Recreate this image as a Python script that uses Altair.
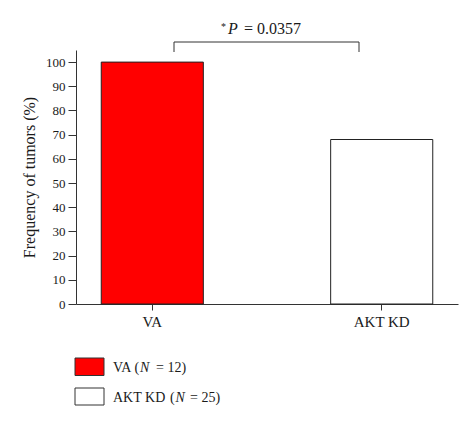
import altair as alt
import pandas as pd

# ---- data ----
categories = ["VA", "AKT KD"]
frequencies = [100, 68]
bar_colors = ["#ff0000", "#ffffff"]
group_n = [12, 25]
y_ticks = [0, 10, 20, 30, 40, 50, 60, 70, 80, 90, 100]
p_value = "0.0357"
y_title = "Frequency of tumors (%)"

FONT = "Liberation Serif"
INK = "#1a1a1a"
AX = "#333333"

bars_df = pd.DataFrame({"group": categories, "freq": frequencies})

x_enc = alt.X(
    "group:N",
    sort=categories,
    scale=alt.Scale(paddingInner=0.555, paddingOuter=0.11),
    axis=alt.Axis(
        title=None, labelAngle=0, tickSize=6, tickColor=AX, domainColor=AX,
        labelFont=FONT, labelFontSize=15, labelColor=INK, labelPadding=4,
    ),
)
y_enc = alt.Y(
    "freq:Q",
    scale=alt.Scale(domain=[0, 105], nice=False),
    axis=alt.Axis(
        values=y_ticks, grid=False, tickSize=8, tickColor=AX, domainColor=AX,
        labelFont=FONT, labelFontSize=13, labelColor=INK, labelPadding=3,
        title=y_title, titleFont=FONT, titleFontSize=16, titleFontWeight="normal",
        titleColor=INK, titlePadding=8,
    ),
)

bars = alt.Chart(bars_df).mark_bar(stroke="#222222", strokeWidth=1).encode(
    x=x_enc,
    y=y_enc,
    color=alt.Color("group:N", scale=alt.Scale(domain=categories, range=bar_colors), legend=None),
)


def text_layer(s, x, y, size, style="normal", align="left"):
    return alt.Chart(pd.DataFrame({"t": [s]})).mark_text(
        font=FONT, fontSize=size, fontStyle=style, color=INK, align=align, baseline="alphabetic"
    ).encode(text="t:N", x=alt.value(x), y=alt.value(y))


def rule_layer(x, x2, y, y2):
    return alt.Chart(pd.DataFrame({"k": [0]})).mark_rule(color=AX, strokeWidth=1).encode(
        x=alt.value(x), x2=alt.value(x2), y=alt.value(y), y2=alt.value(y2)
    )


# significance bracket (annotation)
bracket = [
    rule_layer(98, 283, -8, -8),
    rule_layer(98, 98, -8, 2),
    rule_layer(283, 283, -8, 2),
]
p_text = [
    text_layer("*", 145, -20, 10),
    text_layer("P", 152, -16.5, 16, style="italic"),
    text_layer("= " + p_value, 168, -16.5, 16),
]

# custom legend
legend_layers = []
box_y = [(308, 325.5), (338, 355)]
text_y = [322, 352]
paren_x = [58.5, 94]
n_x = [64, 99.5]
rest_x = [80, 114]
for i, name in enumerate(categories):
    legend_layers.append(
        alt.Chart(pd.DataFrame({"group": [name]})).mark_rect(stroke=AX, strokeWidth=1).encode(
            x=alt.value(-1), x2=alt.value(28), y=alt.value(box_y[i][0]), y2=alt.value(box_y[i][1]),
            color=alt.Color("group:N", scale=alt.Scale(domain=categories, range=bar_colors), legend=None),
        )
    )
    legend_layers.append(text_layer(name, 37, text_y[i], 14))
    legend_layers.append(text_layer("(", paren_x[i], text_y[i], 14))
    legend_layers.append(text_layer("N", n_x[i], text_y[i], 14, style="italic"))
    legend_layers.append(text_layer(f"= {group_n[i]})", rest_x[i], text_y[i], 14))

chart = alt.layer(bars, *bracket, *p_text, *legend_layers).properties(
    width=382,
    height=254,
    autosize=alt.AutoSizeParams(type="none"),
    padding={"left": 68, "top": 42, "right": 8, "bottom": 116},
).configure_view(strokeWidth=0)

chart.save("out.html", embed_options={"renderer": "svg", "actions": False})
